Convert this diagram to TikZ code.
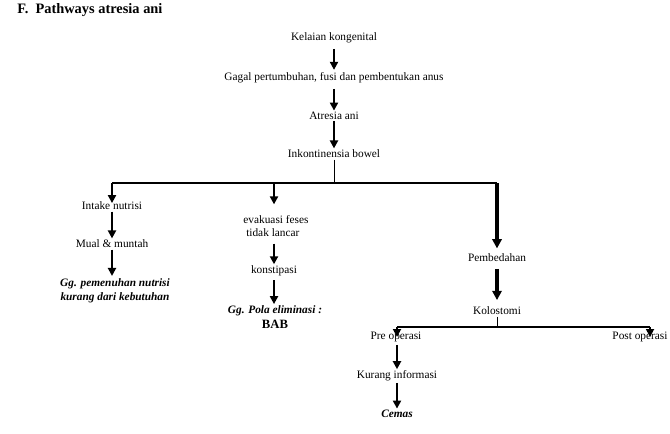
\documentclass[tikz,border=0pt]{standalone}
\usepackage{fontspec}
\setmainfont{Liberation Serif}
\usetikzlibrary{arrows.meta}
\tikzset{
  txt/.style={inner sep=1pt, font=\fontsize{8.5}{10}\selectfont},
  res/.style={inner sep=1pt, align=center, font=\fontsize{8.5}{10.5}\selectfont\bfseries\itshape},
  arr/.style={line width=2pt, -{Triangle[length=6pt,width=6pt]}},
  big/.style={line width=3pt, -{Triangle[length=7pt,width=7pt]}},
  ln/.style={line width=1.1pt}
}
\begin{document}
\begin{tikzpicture}[x=0.75pt, y=-0.75pt]
    \useasboundingbox (0,0) rectangle (670,433);

    \node[anchor=west, inner sep=0pt, font=\fontsize{10.8}{12}\selectfont\bfseries] (title) at (17,10) {F.\ \ Pathways atresia ani};

    \node[txt] (kel) at (334,38) {Kelaian kongenital};
    \node[txt] (gagal) at (334,78) {Gagal pertumbuhan, fusi dan pembentukan anus};
    \node[txt] (atr) at (334,116) {Atresia ani};
    \node[txt] (inkon) at (334,154) {Inkontinensia bowel};

    \draw[arr, shorten <=3pt, shorten >=1pt] (kel) -- (gagal);
    \draw[arr, shorten <=3pt, shorten >=0pt] (gagal) -- (atr);
    \draw[arr] (atr) -- (inkon);

    % cabang
    \coordinate (bus) at (334,183);
    \coordinate (b1) at (112,183);
    \coordinate (b2) at (274,183);
    \coordinate (b3) at (497,183);
    \draw[line width=0.7pt] (inkon) -- (bus);
    \draw[ln] (b1) -- (b3);

    \node[txt] (intake) at (112,206) {Intake nutrisi};
    \node[txt] (mual) at (112,244) {Mual \& muntah};
    \node[res] (gg1) at (115,291) {Gg. pemenuhan nutrisi\\kurang dari kebutuhan};

    \draw[arr, shorten >=-2pt] (b1) -- (intake);
    \draw[arr] (intake) -- (mual);
    \draw[arr, shorten >=1pt] (mual) -- (mual |- gg1.north);

    \node[txt, align=left] (evak) at (276,226) {evakuasi feses\\\ tidak lancar};
    \node[txt] (konst) at (274,271) {konstipasi};
    \node[inner sep=1pt, align=center] (gg2) at (275,317) {{\fontsize{8.5}{10.5}\selectfont\bfseries\itshape Gg. Pola eliminasi :}\\[-1pt]{\fontsize{9.5}{11}\selectfont\bfseries BAB}};

    \draw[arr, shorten >=7pt] (b2) -- (b2 |- evak.north);
    \draw[arr, shorten <=4pt] (evak.south -| b2) -- (konst);
    \draw[arr, shorten <=2pt] (konst) -- (konst |- gg2.north);

    \node[txt] (bedah) at (497,258) {Pembedahan};
    \node[txt] (kolo) at (497,311) {Kolostomi};

    \draw[big, shorten >=3pt] (b3) -- (bedah);
    \draw[big, shorten <=4pt, shorten >=4pt] (bedah) -- (kolo);

    \coordinate (kbus) at (497,327);
    \coordinate (kpre) at (397,327);
    \coordinate (kpost) at (650,327);
    \draw[line width=0.7pt] (kolo) -- (kbus);
    \draw[ln] (kpre) -- (kpost);

    \node[txt] (pre) at (396,337) {Pre operasi};
    \node[txt] (post) at (640,337) {Post operasi};
    \node[txt] (info) at (397,376) {Kurang informasi};
    \node[res] (cemas) at (397,414) {Cemas};

    \draw[arr, line width=1.3pt] (kpre) -- (kpre |- pre.center);
    \draw[arr, line width=1.3pt] (kpost) -- (kpost |- post.center);
    \draw[arr, shorten <=1pt] (pre.south -| kpre) -- (info);
    \draw[arr] (info) -- (cemas);
\end{tikzpicture}
\end{document}
